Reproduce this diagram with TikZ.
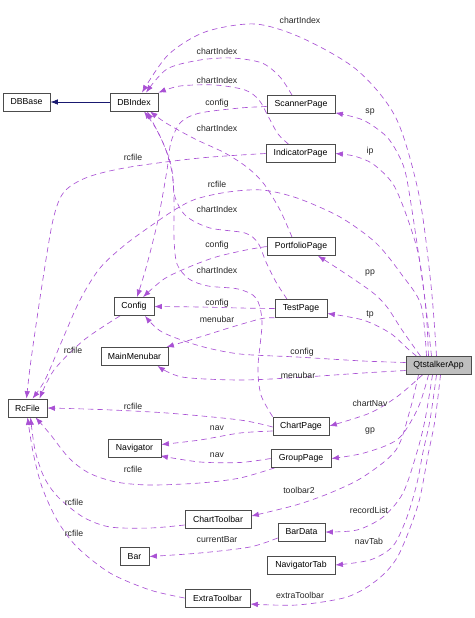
\documentclass[tikz,border=0pt]{standalone}
\usepackage{fontspec}
\setmainfont{Liberation Sans}
\usetikzlibrary{arrows.meta}
\definecolor{edgec}{HTML}{9A32CD}
\definecolor{inhc}{HTML}{191970}
\pgfdeclarelayer{bg}
\pgfsetlayers{bg,main}
\begin{document}
\begin{tikzpicture}[x=1pt,y=-1pt,
  cls/.style={draw=black!70, line width=0.75pt, minimum height=18pt, inner sep=0pt, font=\fontsize{8.7}{10}\selectfont, fill=white},
  lbl/.style={font=\fontsize{8.7}{10}\selectfont, inner sep=0pt, text=black!85},
  uses/.style={draw=edgec!85!white, line width=0.65pt, dash pattern=on 5.5pt off 4pt, -{Latex[length=7.5pt,width=5.5pt]}},
  inh/.style={draw=inhc, line width=0.7pt, -{Latex[length=7.5pt,width=5.5pt]}},
]
\useasboundingbox (0,0) rectangle (474,618);

% classes
\node[cls, minimum width=47pt] (DBBase) at (26.5,102) {DBBase};
\node[cls, minimum width=48pt] (DBIndex) at (134,102) {DBIndex};
\node[cls, minimum width=68pt] (ScannerPage) at (301,104.5) {ScannerPage};
\node[cls, minimum width=69pt] (IndicatorPage) at (300.5,153.5) {IndicatorPage};
\node[cls, minimum width=68pt] (PortfolioPage) at (301,246.5) {PortfolioPage};
\node[cls, minimum width=52pt] (TestPage) at (301,308.5) {TestPage};
\node[cls, minimum width=40pt] (Config) at (134,306.5) {Config};
\node[cls, minimum width=67pt] (MainMenubar) at (134.5,356.5) {MainMenubar};
\node[cls, minimum width=65pt, fill=black!25] (QtstalkerApp) at (438.5,365.5) {QtstalkerApp};
\node[cls, minimum width=39pt] (RcFile) at (27.5,408) {RcFile};
\node[cls, minimum width=56pt] (ChartPage) at (301,426) {ChartPage};
\node[cls, minimum width=53pt] (Navigator) at (134.5,448.5) {Navigator};
\node[cls, minimum width=60pt] (GroupPage) at (301,458.5) {GroupPage};
\node[cls, minimum width=66pt] (ChartToolbar) at (218,519) {ChartToolbar};
\node[cls, minimum width=47pt] (BarData) at (301.5,532) {BarData};
\node[cls, minimum width=29pt] (Bar) at (134.5,556.5) {Bar};
\node[cls, minimum width=68pt] (NavigatorTab) at (301,565) {NavigatorTab};
\node[cls, minimum width=65pt] (ExtraToolbar) at (217.5,598) {ExtraToolbar};

% labels
\node[lbl] (L1) at (300,20) {chartIndex};
\node[lbl] (L2) at (217,51) {chartIndex};
\node[lbl] (L3) at (217,80) {chartIndex};
\node[lbl] (L4) at (217,103) {config};
\node[lbl] (L5) at (217,128) {chartIndex};
\node[lbl] (L6) at (133,157) {rcfile};
\node[lbl] (L7) at (217,184) {rcfile};
\node[lbl] (L8) at (217,209) {chartIndex};
\node[lbl] (L9) at (217,245) {config};
\node[lbl] (L10) at (217,270) {chartIndex};
\node[lbl] (L11) at (217,303) {config};
\node[lbl] (L12) at (217,319) {menubar};
\node[lbl] (L13) at (73,350) {rcfile};
\node[lbl] (L14) at (302,352) {config};
\node[lbl] (L15) at (298,375) {menubar};
\node[lbl] (L16) at (133,406) {rcfile};
\node[lbl] (L17) at (217,428) {nav};
\node[lbl] (L18) at (217,455) {nav};
\node[lbl] (L19) at (133,469) {rcfile};
\node[lbl] (L20) at (299,490) {toolbar2};
\node[lbl] (L21) at (74,502) {rcfile};
\node[lbl] (L22) at (369,510) {recordList};
\node[lbl] (L23) at (74,533) {rcfile};
\node[lbl] (L24) at (217,540) {currentBar};
\node[lbl] (L25) at (369,541) {navTab};
\node[lbl] (L26) at (300,595) {extraToolbar};
\node[lbl] (L27) at (370,112) {sp};
\node[lbl] (L28) at (370,151) {ip};
\node[lbl] (L29) at (370,273) {pp};
\node[lbl] (L30) at (370,315) {tp};
\node[lbl] (L31) at (370,403) {chartNav};
\node[lbl] (L32) at (370,431) {gp};

\begin{pgfonlayer}{bg}
% inheritance
\draw[inh] (DBIndex.west) -- (DBBase.east);

% QtstalkerApp -> DBIndex (top arc)
\draw[uses] plot[smooth] coordinates {([xshift=-2pt]QtstalkerApp.north) (431,285) (419,195) (396,118) (357,70) (302,38) (255,24) (205,32) (168,55) ([xshift=8pt]DBIndex.north)};
% ScannerPage -> DBIndex
\draw[uses] plot[smooth] coordinates {([xshift=-9pt]ScannerPage.north) (280,77) (262,63) (232,58) (200,60) (167,69) ([xshift=12pt]DBIndex.north)};
% IndicatorPage -> DBIndex
\draw[uses] plot[smooth] coordinates {([xshift=-12pt]IndicatorPage.north) (278,134) (268,116) (259,100) (245,90) (215,85) (180,86) (DBIndex.north east)};
% ScannerPage -> Config
\draw[uses] plot[smooth] coordinates {([yshift=-2pt]ScannerPage.west) (240,108) (200,113) (181,122) (171,142) (167,170) (158,220) (146,268) ([xshift=3pt]Config.north)};
% IndicatorPage -> RcFile
\draw[uses] plot[smooth] coordinates {(IndicatorPage.west) (200,158) (130,167) (88,177) (64,192) (53,220) (42,285) (31,360) ([xshift=-1pt]RcFile.north)};
% QtstalkerApp -> RcFile
\draw[uses] plot[smooth] coordinates {([xshift=-12pt]QtstalkerApp.north) (421,305) (402,275) (376,243) (340,217) (297,198) (262,190) (228,192) (196,199) (176,209) (155,223) (126,244) (100,268) (80,300) (61,343) (45,380) ([xshift=5pt]RcFile.north)};
% PortfolioPage -> DBIndex
\draw[uses] plot[smooth] coordinates {([xshift=-9pt]PortfolioPage.north) (280,210) (264,184) (248,168) (225,153) (195,139) (166,123) ([xshift=16pt]DBIndex.south)};
% TestPage -> DBIndex
\draw[uses] plot[smooth] coordinates {([xshift=-14pt]TestPage.north) (276,282) (266,262) (258,243) (245,233) (210,228) (186,216) (175,197) (172,172) (164,145) ([xshift=13pt]DBIndex.south)};
% ChartPage -> DBIndex
\draw[uses] plot[smooth] coordinates {(ChartPage.north west) (261,395) (258,367) (262,322) (256,298) (238,289) (208,286) (189,279) (177,264) (174,238) (174,200) (171,165) (158,132) ([xshift=10pt]DBIndex.south)};
% PortfolioPage -> Config
\draw[uses] plot[smooth] coordinates {(PortfolioPage.west) (246,250) (216,257) (189,267) (164,279) ([xshift=9pt]Config.north)};
% TestPage -> Config
\draw[uses] plot[smooth] coordinates {(TestPage.west) (240,308) (200,307) (Config.east)};
% TestPage -> MainMenubar
\draw[uses] plot[smooth] coordinates {(TestPage.south west) (262,318.5) (232,327) (200,337) ([xshift=-2pt]MainMenubar.north east)};
% Config -> RcFile
\draw[uses] plot[smooth] coordinates {([xshift=-14pt]Config.south) (84,340) (54,370) ([xshift=12pt]RcFile.north)};
% QtstalkerApp -> Config
\draw[uses] plot[smooth] coordinates {([yshift=3pt]QtstalkerApp.west) (363,361) (297,357) (240,354) (200,346) (162,332) ([xshift=11pt]Config.south)};
% QtstalkerApp -> MainMenubar
\draw[uses] plot[smooth] coordinates {([yshift=-5pt]QtstalkerApp.west) (363,373) (297,377.5) (240,380) (182,377) ([xshift=23pt]MainMenubar.south)};
% ChartPage -> RcFile
\draw[uses] plot[smooth] coordinates {([yshift=-1pt]ChartPage.west) (240,420) (167,413) (100,409.5) (RcFile.east)};
% ChartPage -> Navigator
\draw[uses] plot[smooth] coordinates {([yshift=-5pt]ChartPage.west) (240,433) (200,440) ([yshift=4pt]Navigator.east)};
% GroupPage -> Navigator
\draw[uses] plot[smooth] coordinates {(GroupPage.west) (240,462.5) (200,462) ([yshift=2pt,xshift=-1pt]Navigator.south east)};
% GroupPage -> RcFile
\draw[uses] plot[smooth] coordinates {([xshift=4pt]GroupPage.south west) (240,478) (200,483) (150,485) (116,482) (89,473) (69,458) (50,434) ([xshift=8pt]RcFile.south)};
% ChartToolbar -> RcFile
\draw[uses] plot[smooth] coordinates {([yshift=-6pt]ChartToolbar.west) (150,528) (110,527) (83,517) (58,497) (44,477) (35,450) ([xshift=3pt]RcFile.south)};
% ExtraToolbar -> RcFile
\draw[uses] plot[smooth] coordinates {(ExtraToolbar.west) (150,590) (110,573) (77,547) (57,520) (42,487) (33,452) ([xshift=0pt]RcFile.south)};
% BarData -> Bar
\draw[uses] plot[smooth] coordinates {([yshift=-6pt]BarData.west) (250,547) (200,553) (Bar.east)};
% QtstalkerApp -> ScannerPage
\draw[uses] plot[smooth] coordinates {([xshift=-7pt]QtstalkerApp.north) (425,300) (415,230) (406,175) (398,154) (386,136) (363,120) ([yshift=1pt]ScannerPage.south east)};
% QtstalkerApp -> IndicatorPage
\draw[uses] plot[smooth] coordinates {([xshift=-10pt]QtstalkerApp.north) (426,310) (419,257) (407,217) (393,184) (373,164) (354,156) (IndicatorPage.east)};
% QtstalkerApp -> PortfolioPage
\draw[uses] plot[smooth] coordinates {([xshift=-18pt]QtstalkerApp.north) (402,330) (387,307) (372,292) (340,270) ([xshift=17pt]PortfolioPage.south)};
% QtstalkerApp -> TestPage
\draw[uses] plot[smooth] coordinates {([xshift=-22pt]QtstalkerApp.north) (408,349) (390,333) (363,320) ([yshift=-5pt]TestPage.east)};
% QtstalkerApp -> ChartPage
\draw[uses] plot[smooth] coordinates {([xshift=-16pt]QtstalkerApp.south) (398,396) (370,413) (ChartPage.east)};
% QtstalkerApp -> GroupPage
\draw[uses] plot[smooth] coordinates {([xshift=-10pt]QtstalkerApp.south) (418,408) (398,439) (364,453) (GroupPage.east)};
% QtstalkerApp -> ChartToolbar
\draw[uses] plot[smooth] coordinates {([xshift=-20pt]QtstalkerApp.south) (410,410) (396,450) (363,477) (330,493) (296,505) ([yshift=3pt]ChartToolbar.east)};
% QtstalkerApp -> BarData
\draw[uses] plot[smooth] coordinates {([xshift=-6pt]QtstalkerApp.south) (425,420) (417,452) (403,493) (383,517) (357,530) (BarData.east)};
% QtstalkerApp -> NavigatorTab
\draw[uses] plot[smooth] coordinates {([xshift=-2pt]QtstalkerApp.south) (430,420) (423,452) (417,483) (407,517) (393,546) (370,560) (NavigatorTab.east)};
% QtstalkerApp -> ExtraToolbar
\draw[uses] plot[smooth] coordinates {([xshift=2pt]QtstalkerApp.south) (435,420) (428,455) (418,505) (398,556) (377,580) (347,597) (297,605) ([yshift=-6pt]ExtraToolbar.east)};
\end{pgfonlayer}
\end{tikzpicture}
\end{document}
